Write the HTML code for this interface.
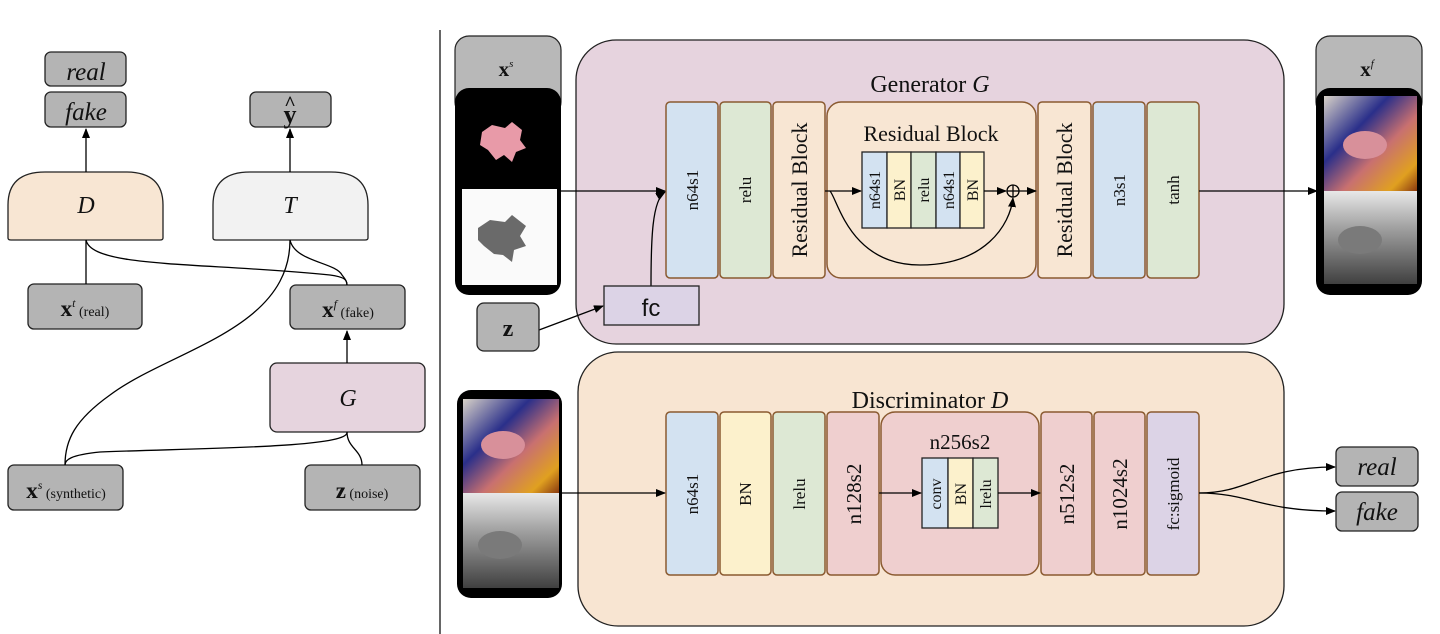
<!DOCTYPE html>
<html><head><meta charset="utf-8"><style>
html,body{margin:0;padding:0;background:#fff;}
svg{display:block;}
text{font-family:"Liberation Serif",serif;fill:#111;}
</style></head><body>
<svg width="1440" height="634" viewBox="0 0 1440 634" xmlns="http://www.w3.org/2000/svg">
<defs>
<marker id="ar" markerWidth="10" markerHeight="8" refX="9" refY="4" orient="auto" markerUnits="userSpaceOnUse">
<path d="M0,0 L10,4 L0,8 z" fill="#000"/></marker>
<linearGradient id="colf" x1="0" y1="0" x2="1" y2="1">
<stop offset="0" stop-color="#d8d2c8"/><stop offset="0.35" stop-color="#2a2f8a"/><stop offset="0.6" stop-color="#c87070"/><stop offset="0.85" stop-color="#e0a020"/><stop offset="1" stop-color="#8a3a10"/></linearGradient>
<linearGradient id="grf" x1="0" y1="0" x2="0" y2="1">
<stop offset="0" stop-color="#e8e8e8"/><stop offset="0.4" stop-color="#a0a0a0"/><stop offset="1" stop-color="#404040"/></linearGradient>
</defs>

<!-- LEFT PANEL -->
<g stroke="#222" stroke-width="1.3">
<rect x="45" y="52" width="81" height="34" rx="6" fill="#b4b4b4"/>
<rect x="45" y="92" width="81" height="35" rx="6" fill="#b4b4b4"/>
<rect x="250" y="92" width="81" height="35" rx="6" fill="#b4b4b4"/>
<path d="M8,238 L8,205 Q8,172 45,172 L126,172 Q163,172 163,205 L163,238 Q163,240 160,240 L11,240 Q8,240 8,238 z" fill="#f8e6d3"/>
<path d="M213,238 L213,205 Q213,172 250,172 L331,172 Q368,172 368,205 L368,238 Q368,240 365,240 L216,240 Q213,240 213,238 z" fill="#f2f2f2"/>
<rect x="28" y="284" width="114" height="45" rx="6" fill="#b4b4b4"/>
<rect x="290" y="285" width="115" height="44" rx="6" fill="#b4b4b4"/>
<rect x="270" y="363" width="155" height="69" rx="7" fill="#e6d4de"/>
<rect x="8" y="465" width="115" height="45" rx="6" fill="#b4b4b4"/>
<rect x="305" y="465" width="115" height="45" rx="6" fill="#b4b4b4"/>
</g>
<g stroke="#000" stroke-width="1.3" fill="none">
<line x1="86" y1="172" x2="86" y2="129" marker-end="url(#ar)"/>
<line x1="290" y1="172" x2="290" y2="129" marker-end="url(#ar)"/>
<line x1="347" y1="363" x2="347" y2="331" marker-end="url(#ar)"/>
<line x1="86" y1="240" x2="86" y2="284"/>
<path d="M86,240 C92,268 200,262 330,275 C345,277 347,280 347,285"/>
<path d="M290,240 C295,262 335,262 342,275 C346,280 347,282 347,285"/>
<path d="M290,240 C290,330 170,350 110,395 C75,420 65,440 65,465"/>
<path d="M347,432 C350,448 200,448 100,452 C70,455 65,460 65,465"/>
<path d="M347,432 C347,448 362,450 362,465"/>
</g>
<text x="86" y="80" font-size="25" font-style="italic" text-anchor="middle">real</text>
<text x="86" y="120" font-size="25" font-style="italic" text-anchor="middle">fake</text>
<text x="290" y="123" font-size="26" font-weight="bold" text-anchor="middle">y</text>
<text x="290" y="110" font-size="20" font-weight="bold" text-anchor="middle">^</text>
<text x="86" y="213" font-size="24" font-style="italic" text-anchor="middle">D</text>
<text x="290" y="213" font-size="24" font-style="italic" text-anchor="middle">T</text>
<text x="348" y="406" font-size="24" font-style="italic" text-anchor="middle">G</text>
<text x="85" y="316" font-size="14" text-anchor="middle"><tspan font-size="23" font-weight="bold">x</tspan><tspan font-size="12" font-style="italic" dy="-9">t</tspan><tspan dy="9"> (real)</tspan></text>
<text x="348" y="317" font-size="14" text-anchor="middle"><tspan font-size="23" font-weight="bold">x</tspan><tspan font-size="12" font-style="italic" dy="-9">f</tspan><tspan dy="9"> (fake)</tspan></text>
<text x="66" y="498" font-size="14" text-anchor="middle"><tspan font-size="23" font-weight="bold">x</tspan><tspan font-size="12" font-style="italic" dy="-9">s</tspan><tspan dy="9"> (synthetic)</tspan></text>
<text x="362" y="498" font-size="14" text-anchor="middle"><tspan font-size="23" font-weight="bold">z</tspan><tspan> (noise)</tspan></text>

<line x1="440" y1="30" x2="440" y2="634" stroke="#333" stroke-width="1.5"/>

<!-- GENERATOR -->
<rect x="576" y="40" width="708" height="304" rx="40" fill="#e6d3de" stroke="#222" stroke-width="1.3"/>
<text x="930" y="92" font-size="24" text-anchor="middle">Generator <tspan font-style="italic">G</tspan></text>
<g stroke="#8a5a30" stroke-width="1.5">
<rect x="666" y="102" width="52" height="176" rx="4" fill="#d3e2f1"/>
<rect x="720" y="102" width="51" height="176" rx="4" fill="#dde8d4"/>
<rect x="773" y="102" width="52" height="176" rx="4" fill="#f8e6d3"/>
<rect x="827" y="102" width="209" height="176" rx="14" fill="#f8e6d3"/>
<rect x="1038" y="102" width="53" height="176" rx="4" fill="#f8e6d3"/>
<rect x="1093" y="102" width="52" height="176" rx="4" fill="#d3e2f1"/>
<rect x="1147" y="102" width="52" height="176" rx="4" fill="#dde8d4"/>
</g>
<g stroke="#222" stroke-width="1.3">
<rect x="862" y="152" width="25" height="76" fill="#d3e2f1"/>
<rect x="887" y="152" width="24" height="76" fill="#fcf1cc"/>
<rect x="911" y="152" width="25" height="76" fill="#dde8d4"/>
<rect x="936" y="152" width="24" height="76" fill="#d3e2f1"/>
<rect x="960" y="152" width="24" height="76" fill="#fcf1cc"/>
</g>
<text x="931" y="141" font-size="22" text-anchor="middle">Residual Block</text>
<g font-size="17" text-anchor="middle">
<text transform="translate(698,190) rotate(-90)">n64s1</text>
<text transform="translate(751,190) rotate(-90)">relu</text>
<text transform="translate(807,190) rotate(-90)" font-size="22">Residual Block</text>
<text transform="translate(1072,190) rotate(-90)" font-size="22">Residual Block</text>
<text transform="translate(1125,190) rotate(-90)">n3s1</text>
<text transform="translate(1179,190) rotate(-90)">tanh</text>
<text transform="translate(880,190) rotate(-90)" font-size="16">n64s1</text>
<text transform="translate(905,190) rotate(-90)" font-size="16">BN</text>
<text transform="translate(929,190) rotate(-90)" font-size="16">relu</text>
<text transform="translate(954,190) rotate(-90)" font-size="16">n64s1</text>
<text transform="translate(978,190) rotate(-90)" font-size="16">BN</text>
</g>
<g stroke="#000" stroke-width="1.3" fill="none">
<line x1="825" y1="191" x2="861" y2="191" marker-end="url(#ar)"/>
<line x1="984" y1="191" x2="1006" y2="191" marker-end="url(#ar)"/>
<line x1="1019" y1="191" x2="1036" y2="191" marker-end="url(#ar)"/>
<path d="M830,191 C838,200 850,265 920,265 C985,265 1010,225 1013,198" marker-end="url(#ar)"/>
<circle cx="1013" cy="191" r="6"/>
<line x1="1007" y1="191" x2="1019" y2="191"/><line x1="1013" y1="185" x2="1013" y2="197"/>
<line x1="561" y1="191" x2="665" y2="191" marker-end="url(#ar)"/>
<path d="M651,286 C651,240 652,200 665,192" marker-end="url(#ar)"/>
<line x1="539" y1="330" x2="603" y2="306" marker-end="url(#ar)"/>
<line x1="1199" y1="191" x2="1317" y2="191" marker-end="url(#ar)"/>
</g>
<rect x="604" y="286" width="95" height="39" fill="#dcd3e6" stroke="#222" stroke-width="1.3"/>
<text x="651" y="316" font-size="24" text-anchor="middle" style="font-family:'Liberation Sans',sans-serif">fc</text>
<rect x="477" y="303" width="62" height="48" rx="7" fill="#b4b4b4" stroke="#222" stroke-width="1.3"/>
<text x="508" y="336" font-size="24" font-weight="bold" text-anchor="middle">z</text>

<!-- x^s panel -->
<rect x="455" y="36" width="106" height="80" rx="14" fill="#b8b8b8" stroke="#222" stroke-width="1.2"/>
<text x="506" y="76" font-size="21" font-weight="bold" text-anchor="middle">x<tspan font-size="11" font-style="italic" font-weight="normal" dy="-9">s</tspan></text>
<rect x="455" y="88" width="106" height="207" rx="14" fill="#000"/>
<rect x="462" y="189" width="95" height="96" fill="#fafafa"/>
<path d="M482,132 L492,125 L505,128 L512,122 L522,130 L520,140 L526,148 L516,152 L512,162 L504,155 L496,160 L488,150 L480,145 z" fill="#e89aa8"/>
<path d="M478,228 L490,220 L505,222 L512,215 L526,226 L520,236 L526,246 L514,250 L512,262 L503,255 L494,254 L484,246 L478,240 z" fill="#6a6a6a"/>

<!-- x^f panel -->
<rect x="1316" y="36" width="106" height="80" rx="14" fill="#b8b8b8" stroke="#222" stroke-width="1.2"/>
<text x="1367" y="76" font-size="21" font-weight="bold" text-anchor="middle">x<tspan font-size="11" font-style="italic" font-weight="normal" dy="-9">f</tspan></text>
<rect x="1316" y="88" width="106" height="207" rx="14" fill="#000"/>
<rect x="1324" y="96" width="93" height="95" fill="url(#colf)"/>
<ellipse cx="1365" cy="145" rx="22" ry="14" fill="#d8909a"/>
<rect x="1324" y="191" width="93" height="93" fill="url(#grf)"/>
<ellipse cx="1360" cy="240" rx="22" ry="14" fill="#7a7a7a"/>

<!-- DISCRIMINATOR -->
<rect x="578" y="352" width="706" height="274" rx="40" fill="#f8e5d2" stroke="#222" stroke-width="1.3"/>
<text x="930" y="408" font-size="24" text-anchor="middle">Discriminator <tspan font-style="italic">D</tspan></text>
<g stroke="#8a5a30" stroke-width="1.5">
<rect x="666" y="412" width="52" height="163" rx="4" fill="#d3e2f1"/>
<rect x="720" y="412" width="51" height="163" rx="4" fill="#fcf1cc"/>
<rect x="773" y="412" width="52" height="163" rx="4" fill="#dde8d4"/>
<rect x="827" y="412" width="52" height="163" rx="4" fill="#efcfcf"/>
<rect x="881" y="412" width="158" height="163" rx="14" fill="#efcfcf"/>
<rect x="1041" y="412" width="51" height="163" rx="4" fill="#efcfcf"/>
<rect x="1094" y="412" width="51" height="163" rx="4" fill="#efcfcf"/>
<rect x="1147" y="412" width="52" height="163" rx="4" fill="#dcd3e6"/>
</g>
<g stroke="#222" stroke-width="1.3">
<rect x="922" y="458" width="26" height="70" fill="#d3e2f1"/>
<rect x="948" y="458" width="25" height="70" fill="#fcf1cc"/>
<rect x="973" y="458" width="25" height="70" fill="#dde8d4"/>
</g>
<text x="960" y="449" font-size="21" text-anchor="middle">n256s2</text>
<g font-size="17" text-anchor="middle">
<text transform="translate(698,494) rotate(-90)">n64s1</text>
<text transform="translate(751,494) rotate(-90)">BN</text>
<text transform="translate(805,494) rotate(-90)">lrelu</text>
<text transform="translate(861,494) rotate(-90)" font-size="21">n128s2</text>
<text transform="translate(941,494) rotate(-90)" font-size="16">conv</text>
<text transform="translate(966,494) rotate(-90)" font-size="16">BN</text>
<text transform="translate(991,494) rotate(-90)" font-size="16">lrelu</text>
<text transform="translate(1074,494) rotate(-90)" font-size="21">n512s2</text>
<text transform="translate(1127,494) rotate(-90)" font-size="21">n1024s2</text>
<text transform="translate(1179,494) rotate(-90)">fc:sigmoid</text>
</g>
<g stroke="#000" stroke-width="1.3" fill="none">
<line x1="562" y1="493" x2="665" y2="493" marker-end="url(#ar)"/>
<line x1="879" y1="493" x2="921" y2="493" marker-end="url(#ar)"/>
<line x1="998" y1="493" x2="1040" y2="493" marker-end="url(#ar)"/>
<path d="M1199,493 C1250,493 1260,467 1335,467" marker-end="url(#ar)"/>
<path d="M1199,493 C1250,493 1260,511 1335,511" marker-end="url(#ar)"/>
</g>
<rect x="1336" y="447" width="82" height="39" rx="6" fill="#b4b4b4" stroke="#222" stroke-width="1.3"/>
<rect x="1336" y="492" width="82" height="39" rx="6" fill="#b4b4b4" stroke="#222" stroke-width="1.3"/>
<text x="1377" y="475" font-size="25" font-style="italic" text-anchor="middle">real</text>
<text x="1377" y="520" font-size="25" font-style="italic" text-anchor="middle">fake</text>

<!-- disc input image -->
<rect x="457" y="390" width="105" height="208" rx="14" fill="#000"/>
<rect x="463" y="399" width="96" height="94" fill="url(#colf)"/>
<ellipse cx="503" cy="445" rx="22" ry="14" fill="#d8909a"/>
<rect x="463" y="493" width="96" height="95" fill="url(#grf)"/>
<ellipse cx="500" cy="545" rx="22" ry="14" fill="#7a7a7a"/>
</svg>
</body></html>
